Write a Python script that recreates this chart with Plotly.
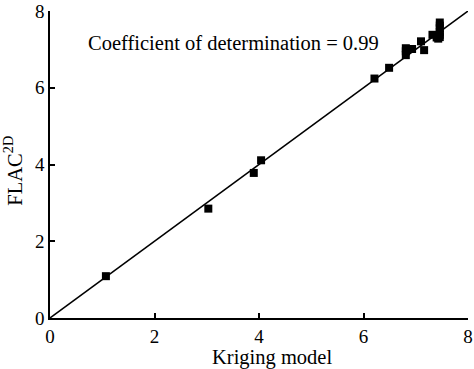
import plotly.graph_objects as go

kriging = [1.07, 3.03, 3.90, 4.04, 6.21, 6.49, 6.81, 6.81, 6.81, 6.93, 7.10, 7.16, 7.32, 7.40, 7.43, 7.46, 7.46, 7.46, 7.46, 7.46, 7.46]
flac = [1.09, 2.85, 3.78, 4.11, 6.24, 6.52, 7.03, 6.85, 6.95, 7.01, 7.21, 6.98, 7.38, 7.31, 7.28, 7.70, 7.62, 7.55, 7.45, 7.38, 7.32]
fit_x = [0, 8]
fit_y = [0, 8]
ticks = [0, 2, 4, 6, 8]
annotation_text = "Coefficient of determination = 0.99"
x_title = "Kriging model"
y_title = "FLAC<sup>2D</sup>"

font = "Liberation Serif, Times New Roman, serif"

fig = go.Figure()
fig.add_trace(go.Scatter(x=fit_x, y=fit_y, mode="lines",
                         line=dict(color="black", width=1.5), showlegend=False))
fig.add_trace(go.Scatter(x=kriging, y=flac, mode="markers",
                         marker=dict(symbol="square", size=8, color="black"),
                         showlegend=False))

axis_common = dict(range=[0, 8], tickvals=ticks, showgrid=False, zeroline=False,
                   showline=True, linecolor="black", linewidth=1.5,
                   ticks="inside", ticklen=5, tickwidth=1.5, tickcolor="black",
                   automargin=False,
                   tickfont=dict(family=font, size=19, color="black"))

fig.update_xaxes(**axis_common)
fig.update_yaxes(**axis_common)

fig.add_annotation(x=0.68, y=7.17, xref="x", yref="y", text=annotation_text,
                   showarrow=False, xanchor="left", yanchor="middle",
                   font=dict(family=font, size=20.5, color="black"))
fig.add_annotation(x=0.531, y=0, xref="paper", yref="paper", text=x_title,
                   showarrow=False, xanchor="center", yanchor="middle", yshift=-39,
                   font=dict(family=font, size=20.5, color="black"))
fig.add_annotation(x=0, y=0.48, xref="paper", yref="paper", text=y_title,
                   showarrow=False, xanchor="center", yanchor="middle", xshift=-37,
                   textangle=-90,
                   font=dict(family=font, size=20.5, color="black"))

fig.update_layout(width=474, height=369, margin=dict(l=50, r=6, t=11, b=51),
                  plot_bgcolor="white", paper_bgcolor="white")

fig.write_html("out.html", config={"displayModeBar": False},
               post_script="document.body.style.margin='0';document.body.style.overflow='hidden';")
